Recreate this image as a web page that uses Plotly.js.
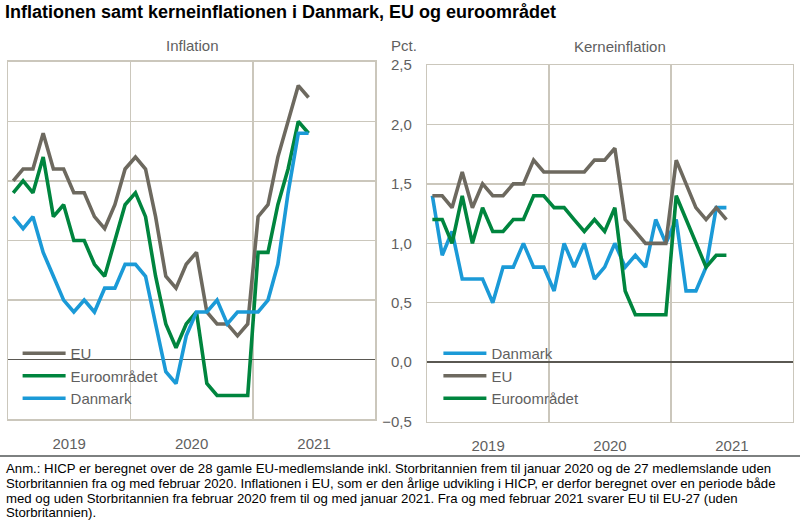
<!DOCTYPE html>
<html>
<head>
<meta charset="utf-8">
<script src="https://cdn.plot.ly/plotly-3.0.1.min.js"></script>
<style>html,body{margin:0;padding:0;background:#fff;}#chart{width:800px;height:527px;}</style>
</head>
<body>
<div id="chart"></div>
<script>
// Months (Jan 2019 - Jun 2021)
const months = ["2019-01","2019-02","2019-03","2019-04","2019-05","2019-06","2019-07","2019-08","2019-09","2019-10","2019-11","2019-12",
"2020-01","2020-02","2020-03","2020-04","2020-05","2020-06","2020-07","2020-08","2020-09","2020-10","2020-11","2020-12",
"2021-01","2021-02","2021-03","2021-04","2021-05","2021-06"];

// Inflation (left panel)
const inflEU   = [1.5,1.6,1.6,1.9,1.6,1.6,1.4,1.4,1.2,1.1,1.3,1.6, 1.7,1.6,1.2,0.7,0.6,0.8,0.9,0.4,0.3,0.3,0.2,0.3, 1.2,1.3,1.7,2.0,2.3,2.2];
const inflEuro = [1.4,1.5,1.4,1.7,1.2,1.3,1.0,1.0,0.8,0.7,1.0,1.3, 1.4,1.2,0.7,0.3,0.1,0.3,0.4,-0.2,-0.3,-0.3,-0.3,-0.3, 0.9,0.9,1.3,1.6,2.0,1.9];
const inflDK   = [1.2,1.1,1.2,0.9,0.7,0.5,0.4,0.5,0.4,0.6,0.6,0.8, 0.8,0.7,0.3,-0.1,-0.2,0.2,0.4,0.4,0.5,0.3,0.4,0.4, 0.4,0.5,0.8,1.4,1.9,1.9];

// Kerneinflation (right panel)
const coreDK   = [1.4,0.9,1.1,0.7,0.7,0.7,0.5,0.8,0.8,1.0,0.8,0.8, 0.6,1.0,0.8,1.0,0.7,0.8,1.0,0.8,0.9,0.8,1.2,1.0, 1.2,0.6,0.6,0.8,1.3,1.3];
const coreEU   = [1.4,1.4,1.3,1.6,1.3,1.5,1.4,1.4,1.5,1.5,1.7,1.6, 1.6,1.6,1.6,1.6,1.7,1.7,1.8,1.2,1.1,1.0,1.0,1.0, 1.7,1.5,1.3,1.2,1.3,1.2];
const coreEuro = [1.2,1.2,1.0,1.4,1.0,1.3,1.1,1.1,1.2,1.2,1.4,1.4, 1.3,1.3,1.2,1.1,1.2,1.1,1.3,0.6,0.4,0.4,0.4,0.4, 1.4,1.2,1.0,0.8,0.9,0.9];

const yTicks = [-0.5,0,0.5,1.0,1.5,2.0,2.5];

const cEU = "#6d695f", cEuro = "#00853e", cDK = "#1b9ad7";
const gridC = "#cbc7bc", textC = "#5f5f5f";
const narrow = "Liberation Sans Narrow, Arial Narrow, Liberation Sans, Arial, sans-serif";

function tr(y, name, color, xa, ya, legend) {
  return {x: months, y: y, name: name, type: "scatter", mode: "lines",
    xperiod: "M1", xperiodalignment: "middle",
    line: {color: color, width: 3.6}, xaxis: xa, yaxis: ya, legend: legend};
}

const data = [
  tr(inflEU, "EU", cEU, "x", "y", "legend"),
  tr(inflEuro, "Euroområdet", cEuro, "x", "y", "legend"),
  tr(inflDK, "Danmark", cDK, "x", "y", "legend"),
  tr(coreDK, "Danmark", cDK, "x2", "y2", "legend2"),
  tr(coreEU, "EU", cEU, "x2", "y2", "legend2"),
  tr(coreEuro, "Euroområdet", cEuro, "x2", "y2", "legend2")
];

function xax(dom) {
  return {domain: dom, type: "date", range: ["2019-01-01","2022-01-01"], tick0: "2019-01-01", dtick: "M12",
    ticklabelmode: "period", tickformat: "%Y", showgrid: true, gridcolor: gridC, gridwidth: 1.3,
    showline: true, mirror: true, linecolor: gridC, linewidth: 1.3, ticks: "", ticklabelstandoff: 10,
    tickfont: {family: narrow, size: 15, color: textC}, fixedrange: true};
}
function yax(dom, showLabels, anchor) {
  return {domain: dom, range: [-0.5, 2.5], tickvals: yTicks, tickformat: ".1f", showticklabels: showLabels,
    showgrid: true, gridcolor: gridC, gridwidth: 1.3, zeroline: true, zerolinecolor: "#5a5852", zerolinewidth: 1.6,
    showline: true, mirror: true, linecolor: gridC, linewidth: 1.3, ticks: "", ticklabelstandoff: 11,
    tickfont: {family: narrow, size: 15, color: textC}, anchor: anchor, fixedrange: true};
}

const legFont = {family: narrow, size: 15, color: textC};

const layout = {
  width: 800, height: 527,
  margin: {l: 0, r: 0, t: 0, b: 0},
  paper_bgcolor: "#fff", plot_bgcolor: "#fff",
  separators: ",.",
  showlegend: true,
  xaxis: xax([0.010, 0.469]),
  yaxis: yax([0.2044, 0.8829], false, "x"),
  xaxis2: Object.assign(xax([0.534, 0.991]), {anchor: "y2"}),
  yaxis2: yax([0.1998, 0.8767], true, "x2"),
  legend: {x: 0.022, y: 0.2865, xanchor: "left", yanchor: "middle", bgcolor: "rgba(0,0,0,0)",
    font: legFont, traceorder: "normal", tracegroupgap: 0, itemwidth: 43},
  legend2: {x: 0.548, y: 0.2865, xanchor: "left", yanchor: "middle", bgcolor: "rgba(0,0,0,0)",
    font: legFont, traceorder: "normal", tracegroupgap: 0, itemwidth: 43},
  annotations: [
    {text: "<b>Inflationen samt kerneinflationen i Danmark, EU og euroområdet</b>", xref: "paper", yref: "paper",
      x: 0.004, y: 1 - 12/527, xanchor: "left", yanchor: "middle", showarrow: false,
      font: {family: "Liberation Sans, Arial, sans-serif", size: 18, color: "#000"}},
    {text: "Inflation", xref: "paper", yref: "paper", x: 192/800, y: 1 - 45/527, xanchor: "center", yanchor: "middle",
      showarrow: false, font: {family: narrow, size: 15, color: textC}},
    {text: "Kerneinflation", xref: "paper", yref: "paper", x: 620/800, y: 1 - 46/527, xanchor: "center", yanchor: "middle",
      showarrow: false, font: {family: narrow, size: 15, color: textC}},
    {text: "Pct.", xref: "paper", yref: "paper", x: 389/800, y: 1 - 45/527, xanchor: "left", yanchor: "middle",
      showarrow: false, font: {family: narrow, size: 15, color: textC}},
    {text: "Anm.: HICP er beregnet over de 28 gamle EU-medlemslande inkl. Storbritannien frem til januar 2020 og de 27 medlemslande uden",
      xref: "paper", yref: "paper", x: 4/800, y: 1 - 468/527, xanchor: "left", yanchor: "middle", showarrow: false,
      font: {family: "Liberation Sans, Arial, sans-serif", size: 13.2, color: "#000"}},
    {text: "Storbritannien fra og med februar 2020. Inflationen i EU, som er den årlige udvikling i HICP, er derfor beregnet over en periode både",
      xref: "paper", yref: "paper", x: 4/800, y: 1 - 483/527, xanchor: "left", yanchor: "middle", showarrow: false,
      font: {family: "Liberation Sans, Arial, sans-serif", size: 13.2, color: "#000"}},
    {text: "med og uden Storbritannien fra februar 2020 frem til og med januar 2021. Fra og med februar 2021 svarer EU til EU-27 (uden",
      xref: "paper", yref: "paper", x: 4/800, y: 1 - 498/527, xanchor: "left", yanchor: "middle", showarrow: false,
      font: {family: "Liberation Sans, Arial, sans-serif", size: 13.2, color: "#000"}},
    {text: "Storbritannien).",
      xref: "paper", yref: "paper", x: 4/800, y: 1 - 512/527, xanchor: "left", yanchor: "middle", showarrow: false,
      font: {family: "Liberation Sans, Arial, sans-serif", size: 13.2, color: "#000"}}
  ],
  shapes: [
    {type: "line", xref: "paper", yref: "paper", x0: 0, x1: 1, y0: 1 - 456/527, y1: 1 - 456/527,
      line: {color: "#7d8080", width: 2}}
  ]
};

Plotly.newPlot("chart", data, layout, {displayModeBar: false, staticPlot: true});
</script>
</body>
</html>
